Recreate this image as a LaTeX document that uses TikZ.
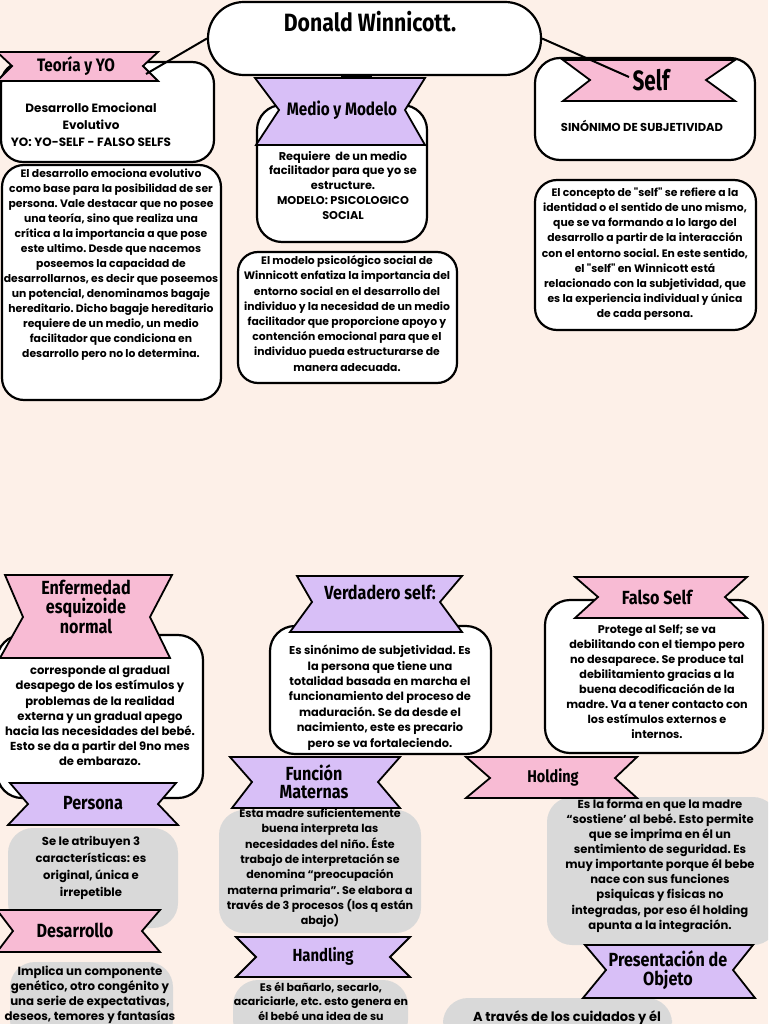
\documentclass[tikz,border=0pt]{standalone}
\usepackage{fontspec}
\newfontfamily\bodyfont{Poppins}
\newfontfamily\headfont[FakeStretch=0.85]{Fira Sans}
\newfontfamily\headnarrow[FakeStretch=0.74]{Fira Sans}
\definecolor{bgc}{RGB}{253,240,232}
\definecolor{pinkc}{RGB}{248,187,212}
\definecolor{purplec}{RGB}{216,191,247}
\definecolor{grayc}{RGB}{217,217,217}
\newcommand{\bsz}[2]{\bodyfont\bfseries\fontsize{#1}{#2}\selectfont}
\tikzset{
  wbox/.style={draw=black, fill=white, line width=2.2pt, rounded corners=#1},
  gbox/.style={fill=grayc, rounded corners=#1},
  ribbon/.style={draw=black, line width=1.8pt, fill=#1, line join=miter},
  body/.style={font=\bsz{10.8}{15.2}, align=center, inner sep=0pt, anchor=north},
  head/.style={font=\headfont\bfseries\fontsize{19}{19}\selectfont, align=center, inner sep=0pt},
  conn/.style={draw=black, line width=2pt},
}
\begin{document}
\frenchspacing
\begin{tikzpicture}[x=1pt,y=-1pt]
\useasboundingbox (0,0) rectangle (768,1024);
\fill[bgc] (0,0) rectangle (768,1024);
\clip (0,0) rectangle (768,1024);

% ---------- top section: boxes ----------
\node[draw=black, fill=white, line width=2.2pt, rounded corners=36pt,
      minimum width=333pt, minimum height=73pt, inner sep=0pt] (title) at (374.5,38.5) {};
\node[head, font=\headfont\bfseries\fontsize{25}{25}\selectfont] (titletxt) at (370,22) {Donald Winnicott.};

\draw[wbox=22] (1,62) rectangle (214,162);
\draw[wbox=22] (2,165) rectangle (221,400);
\draw[wbox=25] (257,105) rectangle (427,242);
\draw[wbox=20] (238,252) rectangle (457,383);
\draw[wbox=25] (535,58) rectangle (755,160);
\draw[wbox=22] (535,180) rectangle (756,330);

% ribbons top
\draw[ribbon=pinkc] (-3,52) -- (158,52) -- (143,66) -- (158,81) -- (-3,81) -- (12,66) -- cycle;
\draw[ribbon=purplec] (255,78) -- (425,78) -- (405,110) -- (425,145) -- (256,145) -- (279,110) -- cycle;
\draw[ribbon=pinkc] (563,60) -- (735,60) -- (706,80) -- (735,101) -- (563,101) -- (590,80) -- cycle;

% connectors
\coordinate (teoriaEnd) at (146,74);
\coordinate (selfEnd) at (629,77);
\coordinate (barL) at (341,76.5);
\coordinate (barR) at (372,76.5);
\draw[conn] (title.west) -- (teoriaEnd);
\draw[conn] (title.east) -- (selfEnd);
\draw[line width=4.5pt] (barL) -- (barR);

% headings top
\node[head, font=\headfont\bfseries\fontsize{18}{18}\selectfont] (teoriaH) at (76,66) {Teoría y YO};
\node[head, font=\headfont\bfseries\fontsize{18}{18}\selectfont] (medioH) at (342,110) {Medio y Modelo};
\node[head, font=\headnarrow\bfseries\fontsize{28}{28}\selectfont] (selfH) at (651,80) {Self};

% texts top
\node[body, font=\bsz{12}{17}] (teoriaT) at (91,102.5) {Desarrollo Emocional\\Evolutivo\\YO: YO-SELF - FALSO SELFS};
\node[body, font=\bsz{10.8}{15}] (devT) at (111,168.5) {El desarrollo emociona evolutivo\\como base para la posibilidad de ser\\persona. Vale destacar que no posee\\una teoría, sino que realiza una\\crítica a la importancia a que pose\\este ultimo. Desde que nacemos\\poseemos la capacidad de\\desarrollarnos, es decir que poseemos\\un potencial, denominamos bagaje\\hereditario. Dicho bagaje hereditario\\requiere de un medio, un medio\\facilitador que condiciona en\\desarrollo pero no lo determina.};
\node[body, font=\bsz{11.3}{14.7}] (medioT) at (343,151) {Requiere\ \ de un medio\\facilitador para que yo se\\estructure.\\MODELO: PSICOLOGICO\\SOCIAL};
\node[body] (modeloT) at (347,255.5) {El modelo psicológico social de\\Winnicott enfatiza la importancia del\\entorno social en el desarrollo del\\individuo y la necesidad de un medio\\facilitador que proporcione apoyo y\\contención emocional para que el\\individuo pueda estructurarse de\\manera adecuada.};
\node[body, font=\bsz{11.5}{12}, anchor=center] (selfT) at (642,126) {SINÓNIMO DE SUBJETIVIDAD};
\node[body] (selfT2) at (645,187.5) {El concepto de "self" se refiere a la\\identidad o el sentido de uno mismo,\\que se va formando a lo largo del\\desarrollo a partir de la interacción\\con el entorno social. En este sentido,\\el "self" en Winnicott está\\relacionado con la subjetividad, que\\es la experiencia individual y única\\de cada persona.};

% ---------- bottom section ----------
\draw[wbox=25] (-3,635) rectangle (203,798);
\draw[wbox=25] (270,626) rectangle (491,754);
\draw[wbox=25] (545,600) rectangle (763,753);
\fill[gbox=25] (8,828) rectangle (178,928);
\fill[gbox=25] (10,962) rectangle (173,1045);
\fill[gbox=25] (219,810) rectangle (421,933);
\fill[gbox=25] (233,980) rectangle (408,1045);
\fill[gbox=25] (547,797) rectangle (778,945);
\fill[gbox=25] (443,998) rectangle (672,1045);

\draw[ribbon=pinkc] (5,575) -- (172,575) -- (150,617) -- (170,658) -- (0,658) -- (23,617) -- cycle;
\draw[ribbon=purplec] (10,783) -- (176,783) -- (158,804) -- (178,825) -- (8,825) -- (28,804) -- cycle;
\draw[ribbon=pinkc] (-3,910) -- (160,910) -- (142,931) -- (160,952) -- (-3,952) -- (13,931) -- cycle;
\draw[ribbon=purplec] (297,576) -- (462,576) -- (440,602) -- (462,632) -- (290,632) -- (312,602) -- cycle;
\draw[ribbon=pinkc] (575,577) -- (747,577) -- (725,597) -- (747,618) -- (575,618) -- (598,597) -- cycle;
\draw[ribbon=purplec] (230,757) -- (400,757) -- (378,782) -- (400,808) -- (232,808) -- (252,782) -- cycle;
\draw[ribbon=purplec] (236,937) -- (410,937) -- (390,957) -- (410,977) -- (236,977) -- (256,957) -- cycle;
\draw[ribbon=pinkc] (466,757) -- (637,757) -- (615,778) -- (637,798) -- (466,798) -- (490,778) -- cycle;
\draw[ribbon=purplec] (585,945) -- (753,945) -- (733,970) -- (755,998) -- (583,998) -- (606,970) -- cycle;

% headings bottom
\node[head, font=\headfont\bfseries\fontsize{19}{18.5}\selectfont] (enfH) at (86,607) {Enfermedad\\esquizoide\\normal};
\node[head] (personaH) at (93,803) {Persona};
\node[head] (desH) at (75,930) {Desarrollo};
\node[head] (verH) at (380,592) {Verdadero self:};
\node[head] (falsoH) at (657,597) {Falso Self};
\node[head, font=\headfont\bfseries\fontsize{19}{18}\selectfont] (funH) at (314,782) {Función\\Maternas};
\node[head, font=\headfont\bfseries\fontsize{17.5}{17.5}\selectfont] (handH) at (323,956) {Handling};
\node[head, font=\headfont\bfseries\fontsize{17}{17}\selectfont] (holdH) at (553,777) {Holding};
\node[head, font=\headfont\bfseries\fontsize{19}{19}\selectfont] (presH) at (668,970) {Presentación de\\Objeto};

% texts bottom
\node[body, font=\bsz{11.6}{15.2}] (enfT) at (100,666) {corresponde al gradual\\desapego de los estímulos y\\problemas de la realidad\\externa y un gradual apego\\hacia las necesidades del bebé.\\Esto se da a partir del 9no mes\\de embarazo.};
\node[body, font=\bsz{11.6}{17}\selectfont] (personaT) at (91,835.5) {Se le atribuyen 3\\características: es\\original, única e\\irrepetible};
\node[body, font=\bsz{11.8}{15}] (desT) at (90,966) {Implica un componente\\genético, otro congénito y\\una serie de expectativas,\\deseos, temores y fantasías};
\node[body, font=\bsz{11.4}{15.4}] (verT) at (380,645) {Es sinónimo de subjetividad. Es\\la persona que tiene una\\totalidad basada en marcha el\\funcionamiento del proceso de\\maduración. Se da desde el\\nacimiento, este es precario\\pero se va fortaleciendo.};
\node[body, font=\bsz{11.2}{15}] (falsoT) at (657,625) {Protege al Self; se va\\debilitando con el tiempo pero\\no desaparece. Se produce tal\\debilitamiento gracias a la\\buena decodificación de la\\madre. Va a tener contacto con\\los estímulos externos e\\internos.};
\node[body, font=\bsz{11.1}{15.3}] (funT) at (320,808.5) {Esta madre suficientemente\\buena interpreta las\\necesidades del niño. Éste\\trabajo de interpretación se\\denomina “preocupación\\materna primaria”. Se elabora a\\través de 3 procesos (los q están\\abajo)};
\node[body, font=\bsz{11}{14.6}] (handT) at (321,982) {Es él bañarlo, secarlo,\\acariciarle, etc. esto genera en\\él bebé una idea de su};
\node[body, font=\bsz{11.6}{15.1}] (holdT) at (660,799) {Es la forma en que la madre\\“sostiene’ al bebé. Esto permite\\que se imprima en él un\\sentimiento de seguridad. Es\\muy importante porque él bebe\\nace con sus funciones\\psiquicas y fisicas no\\integradas, por eso él holding\\apunta a la integración.};
\node[body, font=\bsz{13}{15}] (presT) at (567,1010) {A través de los cuidados y él};
\end{tikzpicture}
\end{document}
